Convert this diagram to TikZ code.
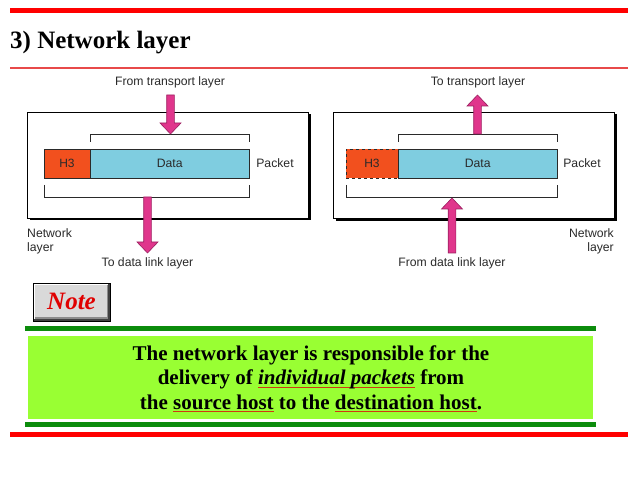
\documentclass[tikz,border=0pt]{standalone}
\usepackage{fontspec}
\setmainfont{Liberation Serif}
\newfontfamily\dsans{Liberation Sans}
\usetikzlibrary{calc}
\definecolor{topred}{HTML}{FF0000}
\definecolor{thinred}{HTML}{E84A4A}
\definecolor{dgreen}{HTML}{0C8C0C}
\definecolor{lgreen}{HTML}{99FF33}
\definecolor{hthree}{HTML}{F2501E}
\definecolor{datablue}{HTML}{7FCDE0}
\definecolor{arrfill}{HTML}{E0368C}
\definecolor{arrline}{HTML}{9B2060}
\definecolor{ulred}{HTML}{D03A10}
\definecolor{notered}{HTML}{E00000}
\definecolor{txtdark}{HTML}{2A2A2A}
\newcommand\redul[1]{\setbox0\hbox{#1}\rlap{\color{ulred}\rule[-3.2pt]{\wd0}{1.4pt}}\box0\relax}
\newcommand\myvarrow[3]{%
  \pgfmathsetmacro\myhl{#3>#2 ? -11 : 11}%
  \filldraw[fill=arrfill,draw=arrline,line width=0.6pt]
    (#1-3.8,#2) -- (#1-3.8,#3+\myhl) -- (#1-10.5,#3+\myhl) -- (#1,#3)
    -- (#1+10.5,#3+\myhl) -- (#1+3.8,#3+\myhl) -- (#1+3.8,#2) -- cycle;}
\tikzset{
  lbl/.style={font=\dsans\fontsize{12.2}{14}\selectfont, text=txtdark, inner sep=0pt},
  hbox/.style={draw=txtdark, line width=0.7pt, fill=hthree, minimum height=29pt, inner sep=0pt,
     font=\dsans\fontsize{12}{14}\selectfont, text=txtdark},
  dbox/.style={draw=txtdark, line width=0.7pt, fill=datablue, minimum height=29pt, minimum width=159pt, inner sep=0pt,
     font=\dsans\fontsize{12.2}{14}\selectfont, text=txtdark},
  bracket/.style={draw=txtdark, line width=0.7pt},
}
\begin{document}
\begin{tikzpicture}[x=1pt,y=-1pt]
\useasboundingbox (0,0) rectangle (638,478);
\fill[white] (0,0) rectangle (638,478);
% header
\fill[topred] (10,8) rectangle (628,13);
\node[anchor=base west, inner sep=0pt, font=\bfseries\fontsize{25}{28}\selectfont] (title) at (10,49) {3) Network layer};
\fill[thinred] (10,67.5) rectangle (628,69.5);

% ---------- left diagram ----------
\fill[black] (29.5,114.5) rectangle (310.5,220.5);
\filldraw[fill=white, draw=black, line width=0.7pt] (27,112) rectangle (308,218);
\draw[bracket] (90,142) -- (90,134) -- (249.3,134) -- (249.3,142);
\draw[bracket] (44,185) -- (44,197) -- (249.3,197) -- (249.3,185);
\node[hbox, minimum width=46pt] (h3a) at (67,163.5) {H3};
\node[dbox] (da) at (169.7,163.5) {Data};
\node[lbl] (pa) at (275,163) {Packet};
\node[lbl] (fta) at (170,82) {From transport layer};
\node[lbl] (tdl) at (147.5,263.5) {To data link layer};
\node[lbl, anchor=west, align=left] (nla) at (27,241.5) {Network\\layer};
\myvarrow{170.5}{95}{134}
\myvarrow{147.5}{197}{253}

% ---------- right diagram ----------
\fill[black] (335.5,114.5) rectangle (616.5,221);
\filldraw[fill=white, draw=black, line width=0.7pt] (333,112) rectangle (614,218.5);
\draw[bracket] (398,142) -- (398,134) -- (557.3,134) -- (557.3,142);
\draw[bracket] (346,185) -- (346,197) -- (557.3,197) -- (557.3,185);
\node[hbox, dashed, minimum width=52pt] (h3b) at (372,163.5) {H3};
\node[dbox] (db) at (477.7,163.5) {Data};
\node[lbl] (pb) at (582,163) {Packet};
\node[lbl] (ttl) at (478,82) {To transport layer};
\node[lbl] (fdl) at (452,263.5) {From data link layer};
\node[lbl, anchor=east, align=right] (nlb) at (614,241.5) {Network\\layer};
\myvarrow{477.5}{134}{95}
\myvarrow{452}{253}{198}

% ---------- note ----------
\fill[black!75] (33,283) rectangle (110,321);
\fill[white] (33,283) rectangle (108,319);
\fill[black!45] (35,285) rectangle (108,319);
\fill[black!15] (35,285) rectangle (106.5,317.5);
\draw[black, line width=0.6pt] (33,283) rectangle (110,321);
\node[inner sep=0pt, font=\bfseries\itshape\fontsize{25}{28}\selectfont, text=notered] (note) at (71.5,301.5) {Note};

\fill[dgreen] (25,326) rectangle (596,331);
\fill[lgreen] (28,336) rectangle (593,419);
\fill[dgreen] (25,422) rectangle (596,427);
\fill[topred] (10,432) rectangle (628,437);

\node[align=center, inner sep=0pt, font=\bfseries\fontsize{21}{24.5}\selectfont, text=black] (body) at (311,379)
 {The network layer is responsible for the\\
  delivery of \redul{\textit{individual packets}} from\\
  the \redul{source host} to the \redul{destination host}.};
\end{tikzpicture}
\end{document}
